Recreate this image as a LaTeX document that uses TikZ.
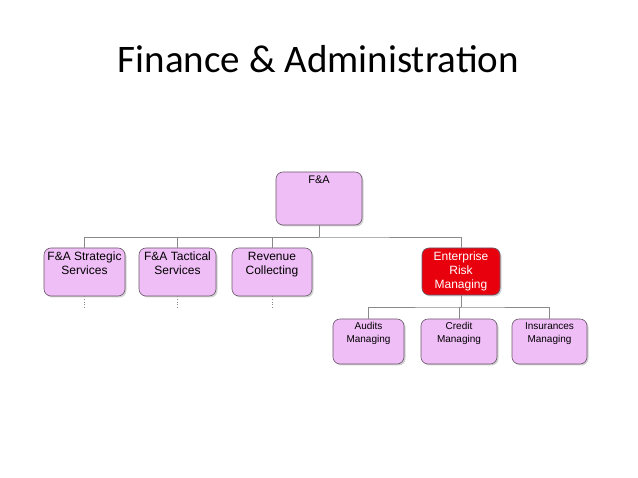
\documentclass[tikz,border=0pt]{standalone}
\usepackage{fontspec}
\setmainfont{Liberation Sans}
\newfontfamily\titlefont{Carlito}
\usetikzlibrary{shadows}
\definecolor{boxpink}{HTML}{F0BEF7}
\definecolor{boxred}{HTML}{E8000C}
\definecolor{boxedge}{HTML}{6A5A6A}
\definecolor{linegray}{HTML}{8A8A8A}
\tikzset{
  box/.style={draw=boxedge, line width=0.6pt, fill=boxpink, rounded corners=7pt,
    drop shadow={opacity=0.35, shadow xshift=1.5pt, shadow yshift=-1.5pt}},
  redbox/.style={box, fill=boxred},
  uptxt/.style={anchor=north, align=center, font=\fontsize{12}{14}\selectfont, inner sep=0pt},
  lowtxt/.style={anchor=north, align=center, font=\fontsize{10}{13}\selectfont, inner sep=0pt},
  conn/.style={draw=linegray, line width=0.7pt},
  dotconn/.style={draw=linegray, line width=0.7pt, dotted}
}
\begin{document}
\begin{tikzpicture}[x=1pt,y=-1pt]
\useasboundingbox[fill=white] (0,0) rectangle (638,478);
\node[font=\titlefont\fontsize{39}{44}\selectfont, anchor=base] (title) at (318.5,73) {Finance \& Administration};

% top
\node[box, minimum width=86pt, minimum height=53pt] (fa) at (319,198.5) {};
\node[uptxt, font=\fontsize{11}{13}\selectfont] (fat) at (319,175.5) {F\&A};

% level 2
\node[box, minimum width=81pt, minimum height=48pt] (s1) at (84.5,272) {};
\node[box, minimum width=77pt, minimum height=48pt] (s2) at (177.5,272) {};
\node[box, minimum width=80pt, minimum height=48pt] (s3) at (272,272) {};
\node[redbox, minimum width=78pt, minimum height=47pt] (s4) at (461,271.5) {};
\node[uptxt] (s1t) at (84.5,252) {F\&A Strategic\\Services};
\node[uptxt] (s2t) at (177.5,252) {F\&A Tactical\\Services};
\node[uptxt] (s3t) at (272,252) {Revenue\\Collecting};
\node[uptxt, text=white] (s4t) at (461,252) {Enterprise\\Risk\\Managing};

% level 3
\node[box, minimum width=71pt, minimum height=45pt] (r1) at (368.5,341.5) {};
\node[box, minimum width=76pt, minimum height=45pt] (r2) at (459,341.5) {};
\node[box, minimum width=75pt, minimum height=45pt] (r3) at (549.5,341.5) {};
\node[lowtxt] (r1t) at (368.5,322) {Audits\\Managing};
\node[lowtxt] (r2t) at (459,322) {Credit\\Managing};
\node[lowtxt] (r3t) at (549.5,322) {Insurances\\Managing};

% connectors
\coordinate (bus1) at (319,237);
\draw[conn] (fa.south) -- (bus1);
\draw[conn] (s1.north) |- (bus1) -| (s4.north);
\draw[conn] (s2.north) |- (bus1);
\draw[conn] (s3.north) |- (bus1);
\coordinate (bus2) at (461,307);
\draw[conn] (s4.south) -- (bus2);
\draw[conn] (r1.north) |- (bus2) -| (r3.north);
\draw[conn] (r2.north) |- (bus2);

\coordinate (d1) at (84.5,308);
\coordinate (d2) at (177.5,308);
\coordinate (d3) at (272,308);
\draw[dotconn] (s1.south) -- (d1);
\draw[dotconn] (s2.south) -- (d2);
\draw[dotconn] (s3.south) -- (d3);
\end{tikzpicture}
\end{document}
